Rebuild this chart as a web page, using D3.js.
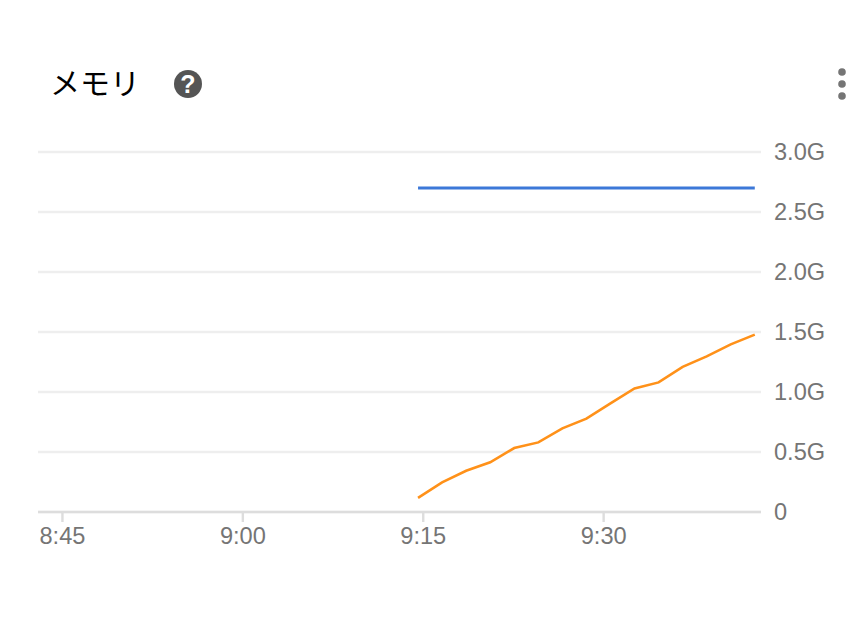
<!DOCTYPE html>
<html>
<head>
<meta charset="utf-8">
<style>
  html, body { margin: 0; padding: 0; background: #fff; }
  svg { display: block; }
  .axis text { font-family: "Liberation Sans", sans-serif; font-size: 23.6px; fill: #757575; }
</style>
</head>
<body>
<script src="https://cdn.jsdelivr.net/npm/d3@7"></script>
<script>
// Chart data
var title = "メモリ";
var times = ["9:14:34", "9:16:34", "9:18:34", "9:20:34", "9:22:34", "9:24:34", "9:26:34", "9:28:34",
  "9:30:34", "9:32:34", "9:34:34", "9:36:34", "9:38:34", "9:40:34", "9:42:34"];
var usage = [0.117, 0.247, 0.344, 0.414, 0.533, 0.58, 0.697, 0.778, 0.905, 1.03, 1.08, 1.21, 1.297, 1.397, 1.478];
var limit = [2.7, 2.7, 2.7, 2.7, 2.7, 2.7, 2.7, 2.7, 2.7, 2.7, 2.7, 2.7, 2.7, 2.7, 2.7];
var xTicks = ["8:45", "9:00", "9:15", "9:30"];
var yTicks = [0, 0.5, 1, 1.5, 2, 2.5, 3];
var yTickLabels = ["0", "0.5G", "1.0G", "1.5G", "2.0G", "2.5G", "3.0G"];

var svgWidth = 864;
var svgHeight = 620;

var margin = { top: 152, right: 103, bottom: 108, left: 38 };
var chartWidth = svgWidth - margin.left - margin.right;
var chartHeight = svgHeight - margin.top - margin.bottom;

var parser = d3.timeParse("%H:%M:%S");
var shortParser = d3.timeParse("%H:%M");

var svg = d3.select("body")
  .append("svg")
  .attr("width", svgWidth)
  .attr("height", svgHeight);

var chartGroup = svg.append("g")
  .attr("transform", `translate(${margin.left}, ${margin.top})`);

var xTimeScale = d3.scaleTime()
  .domain([parser("8:42:58"), parser("9:43:05")])
  .range([0, chartWidth]);

var yLinearScale = d3.scaleLinear()
  .domain([0, 3])
  .range([chartHeight, 0]);

// Gridlines come from the right axis ticks
var rightAxis = d3.axisRight(yLinearScale)
  .tickValues(yTicks)
  .tickSize(-chartWidth)
  .offset(0)
  .tickFormat((d, i) => yTickLabels[i]);

chartGroup.append("g")
  .classed("axis", true)
  .attr("transform", `translate(${chartWidth}, 0)`)
  .call(rightAxis)
  .call(g => g.select(".domain").remove())
  .call(g => g.selectAll(".tick line").attr("stroke", "#eeeeee").attr("stroke-width", 2.6))
  .call(g => g.selectAll(".tick text").attr("x", 13).attr("dy", "0.35em"));

var bottomAxis = d3.axisBottom(xTimeScale)
  .tickValues(xTicks.map(t => shortParser(t)))
  .tickSize(10)
  .tickSizeOuter(0)
  .tickPadding(5)
  .offset(0)
  .tickFormat((d, i) => xTicks[i]);

chartGroup.append("g")
  .classed("axis", true)
  .attr("transform", `translate(0, ${chartHeight})`)
  .call(bottomAxis)
  .call(g => g.select(".domain").attr("stroke", "#dddddd").attr("stroke-width", 2.6))
  .call(g => g.selectAll(".tick line").attr("stroke", "#dddddd").attr("stroke-width", 2.4));

var drawLine = d3.line()
  .x((d, i) => xTimeScale(parser(times[i])))
  .y(d => yLinearScale(d));

chartGroup.append("path")
  .attr("d", drawLine(limit))
  .attr("fill", "none")
  .attr("stroke", "#3c78d8")
  .attr("stroke-width", 3);

chartGroup.append("path")
  .attr("d", drawLine(usage))
  .attr("fill", "none")
  .attr("stroke", "#ff9119")
  .attr("stroke-width", 2.6);

// Title
svg.append("text")
  .attr("x", 50)
  .attr("y", 94)
  .attr("font-family", "'Noto Sans CJK JP', sans-serif")
  .attr("font-size", 30)
  .attr("fill", "#000")
  .text(title);

// Help icon
svg.append("circle")
  .attr("cx", 188)
  .attr("cy", 84)
  .attr("r", 14)
  .attr("fill", "#555555");

svg.append("text")
  .attr("x", 188)
  .attr("y", 93)
  .attr("text-anchor", "middle")
  .attr("font-family", "'Liberation Sans', sans-serif")
  .attr("font-weight", "bold")
  .attr("font-size", 25)
  .attr("fill", "#fff")
  .text("?");

// Overflow menu dots
svg.selectAll(".menu-dot")
  .data([72, 84, 96])
  .enter()
  .append("circle")
  .classed("menu-dot", true)
  .attr("cx", 842)
  .attr("cy", d => d)
  .attr("r", 3.8)
  .attr("fill", "#757575");
</script>
</body>
</html>
